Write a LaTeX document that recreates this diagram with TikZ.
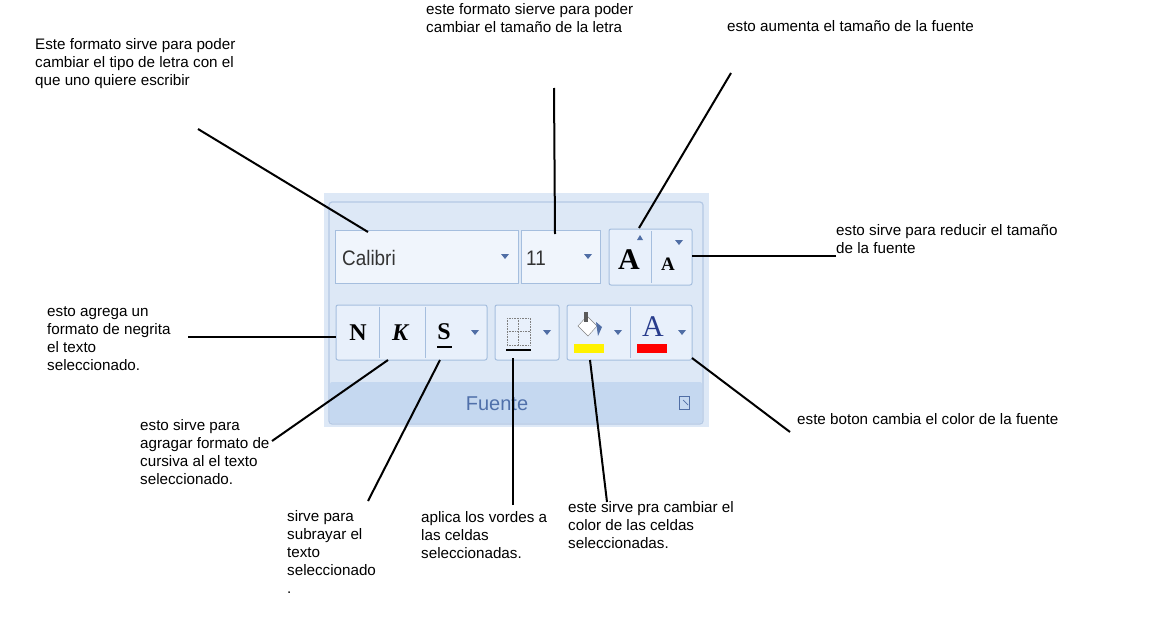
\documentclass[tikz,border=0pt]{standalone}
\usepackage{fontspec}
\setmainfont{Liberation Sans}
\definecolor{panel}{RGB}{221,232,246}
\definecolor{pedge}{RGB}{180,200,228}
\definecolor{band}{RGB}{197,216,240}
\definecolor{bfill}{RGB}{232,240,251}
\definecolor{bedge}{RGB}{165,190,222}
\definecolor{boxf}{RGB}{240,245,252}
\definecolor{trib}{RGB}{80,110,165}
\definecolor{fuen}{RGB}{80,112,170}
\definecolor{darkA}{RGB}{40,60,140}
\begin{document}
\begin{tikzpicture}[x=1pt,y=-1pt,
  lbl/.style={anchor=north west,align=left,inner sep=0pt,font=\fontsize{15.2}{18}\selectfont},
  ln/.style={line width=2pt,black},
  btn/.style={draw=bedge,rounded corners=2pt,fill=bfill,line width=1pt},
  sep/.style={draw=bedge,line width=0.7pt},
  tri/.style={fill=trib}]
\useasboundingbox (0,0) rectangle (1174,642);
% panel
\fill[panel] (324,193) rectangle (709,427);
\draw[pedge,line width=1.2pt,rounded corners=3pt] (329,202) rectangle (703,424);
\fill[band,rounded corners=2pt] (330,382) rectangle (702,423);
\node[font=\fontsize{20}{22}\selectfont,text=fuen] (fu) at (497,404) {Fuente};
\draw[trib,line width=0.7pt] (679,396) rectangle (689,409);
\draw[trib,line width=0.7pt] (683,400) -- (688,405);
% font boxes
\draw[btn,fill=boxf,rounded corners=0pt] (335,230) rectangle (518,283);
\node[anchor=west,font=\fontsize{21}{22}\selectfont,text=black!80,xscale=0.9] (cal) at (339,258) {Calibri};
\fill[tri] (501,254) -- (509,254) -- (505,259) -- cycle;
\draw[btn,fill=boxf,rounded corners=0pt] (521,230) rectangle (600,283);
\node[anchor=west,font=\fontsize{21}{22}\selectfont,text=black!80,xscale=0.9] (sz) at (523,258) {11};
\fill[tri] (584,254) -- (592,254) -- (588,259) -- cycle;
% grow / shrink
\draw[btn] (609,229) rectangle (692,285);
\draw[sep] (651,231) -- (651,283);
\node[font=\fontsize{30}{30}\selectfont] (ga) at (629,260) {\fontspec{Liberation Serif}\bfseries A};
\fill[tri] (637,240) -- (643,240) -- (640,235) -- cycle;
\node[font=\fontsize{19}{22}\selectfont] (sa) at (668,264) {\fontspec{Liberation Serif}\bfseries A};
\fill[tri] (675,240) -- (683,240) -- (679,245) -- cycle;
% NKS group
\draw[btn] (336,305) rectangle (487,360);
\draw[sep] (379,307) -- (379,358);
\draw[sep] (425,307) -- (425,358);
\node[font=\fontsize{24}{24}\selectfont] (bN) at (358,333) {\fontspec{Liberation Serif}\bfseries N};
\node[font=\fontsize{24}{24}\selectfont] (bK) at (400,333) {\fontspec{Liberation Serif}\bfseries\itshape K};
\node[font=\fontsize{24}{24}\selectfont] (bS) at (444,332) {\fontspec{Liberation Serif}\bfseries S};
\draw[line width=1.3pt] (437,347) -- (452,347);
\fill[tri] (471,330) -- (479,330) -- (475,335) -- cycle;
% borders
\draw[btn] (495,305) rectangle (559,360);
\draw[densely dotted,gray,line width=0.6pt] (507,318) rectangle (530,345);
\draw[densely dotted,gray,line width=0.6pt] (518,318) -- (518,345) (507,331) -- (530,331);
\draw[line width=1.6pt] (506,350) -- (531,350);
\fill[tri] (543,330) -- (551,330) -- (547,335) -- cycle;
% colour group
\draw[btn] (567,305) rectangle (692,360);
\draw[sep] (630,307) -- (630,358);
\fill[yellow] (574,344) rectangle (604,353);
\draw[gray,fill=white] (578,326) -- (587,316) -- (597,326) -- (588,336) -- cycle;
\fill[gray!70!black] (584,312) rectangle (588,322);
\fill[trib] (596,322) -- (602,327) -- (598,336) -- cycle;
\fill[tri] (614,330) -- (622,330) -- (618,335) -- cycle;
\node[font=\fontsize{30}{30}\selectfont,text=darkA] (fA) at (653,327) {\fontspec{Liberation Serif}A};
\fill[red] (637,344) rectangle (667,353);
\fill[tri] (678,330) -- (686,330) -- (682,335) -- cycle;
% labels
\node[lbl] (t1) at (35,38) {Este formato sirve para poder\\cambiar el tipo de letra con el\\que uno quiere escribir};
\node[lbl] (t2) at (426,3) {este formato sierve para poder\\cambiar el tamaño de la letra};
\node[lbl] (t3) at (727,20) {esto aumenta el tamaño de la fuente};
\node[lbl] (t4) at (836,224) {esto sirve para reducir el tamaño\\de la fuente};
\node[lbl] (t5) at (47,306) {esto agrega un\\formato de negrita\\el texto\\seleccionado.};
\node[lbl] (t6) at (140,419) {esto sirve para\\agragar formato de\\cursiva al el texto\\seleccionado.};
\node[lbl] (t7) at (287,510) {sirve para\\subrayar el\\texto\\seleccionado\\.};
\node[lbl] (t8) at (421,511) {aplica los vordes a\\las celdas\\seleccionadas.};
\node[lbl] (t9) at (568,501) {este sirve pra cambiar el\\color de las celdas\\seleccionadas.};
\node[lbl] (t10) at (797,413) {este boton cambia el color de la fuente};
% connector ends
\coordinate (a1) at (198,129); \coordinate (b1) at (368,232);
\coordinate (a2) at (554,88);  \coordinate (b2) at (555,234);
\coordinate (a3) at (731,73);  \coordinate (b3) at (639,228);
\coordinate (a4) at (836,256); \coordinate (b4) at (692,256);
\coordinate (a5) at (188,337); \coordinate (b5) at (336,337);
\coordinate (a6) at (272,441); \coordinate (b6) at (388,360);
\coordinate (a7) at (368,501); \coordinate (b7) at (440,360);
\coordinate (a8) at (513,505); \coordinate (b8) at (513,358);
\coordinate (a9) at (607,502); \coordinate (b9) at (590,360);
\coordinate (a10) at (790,432); \coordinate (b10) at (692,358);
\foreach \i in {1,...,10} {\draw[ln] (a\i) -- (b\i);}
\end{tikzpicture}
\end{document}
